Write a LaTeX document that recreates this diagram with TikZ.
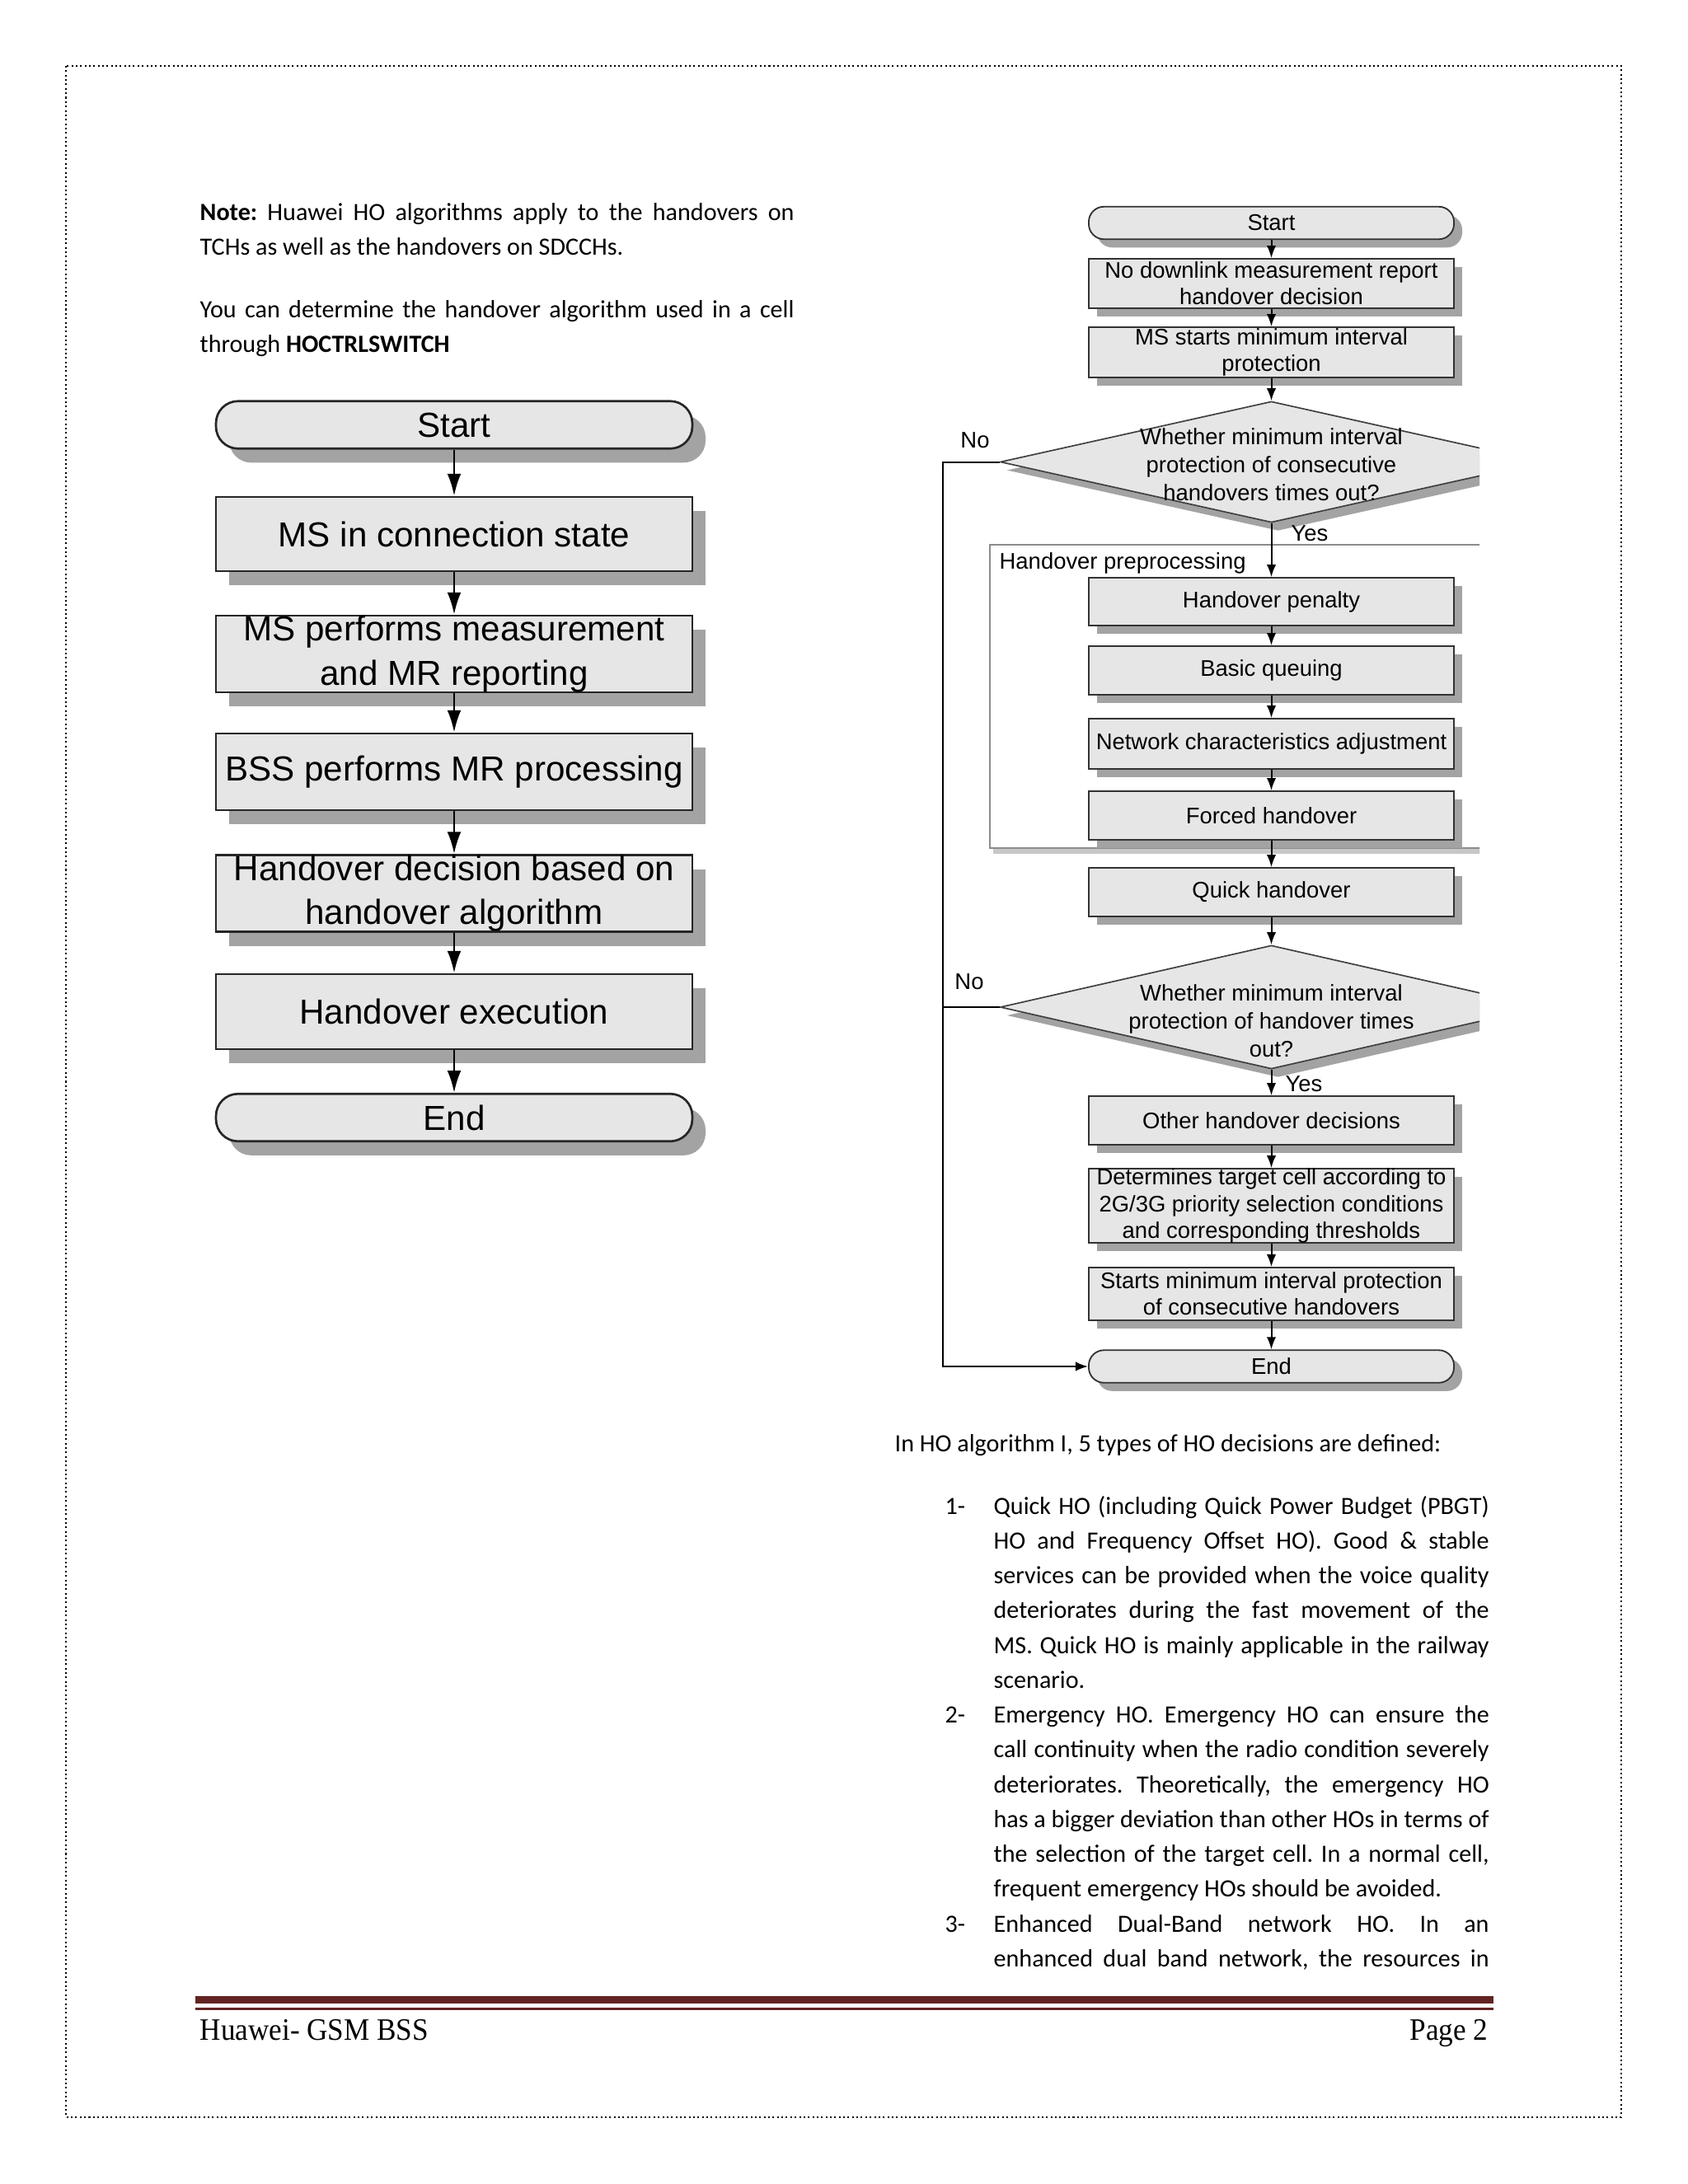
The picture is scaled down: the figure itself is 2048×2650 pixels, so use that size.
\documentclass[tikz,border=0pt]{standalone}
\usepackage{fontspec}
\setmainfont{Carlito}
\newfontfamily\arialf{Liberation Sans}
\newfontfamily\footf[FakeStretch=0.93]{Liberation Serif}
\usetikzlibrary{arrows.meta,shapes.geometric,shadows}
\definecolor{boxgray}{HTML}{E6E6E6}
\definecolor{shadowgray}{HTML}{A3A3A3}
\definecolor{framegray}{HTML}{8C8C8C}
\definecolor{footred}{HTML}{622423}
\frenchspacing
\newcommand{\jline}[1]{\makebox[179.6pt][s]{#1}}
\newcommand{\jlineL}[1]{\makebox[215.45pt][s]{#1}}
\tikzset{
  boxL/.style={draw=black!85, line width=0.8pt, fill=boxgray, inner sep=0pt, align=center,
    minimum width=172.7pt, minimum height=#1,
    font=\arialf\fontsize{12.6}{16}\selectfont,
    general shadow={fill=shadowgray, shadow xshift=4.8pt, shadow yshift=-5.1pt}},
  boxL/.default=27.5pt,
  termL/.style={boxL=17.2pt, rounded corners=8pt},
  arrL/.style={line width=0.8pt, -{Latex[length=8pt,width=5pt]}},
  boxR/.style={draw=black!80, line width=0.55pt, fill=boxgray, inner sep=0pt, align=center,
    minimum width=132.4pt, minimum height=#1,
    font=\arialf\fontsize{8.2}{9.6}\selectfont,
    general shadow={fill=shadowgray, shadow xshift=3pt, shadow yshift=-3pt}},
  boxR/.default=17.6pt,
  termR/.style={boxR=11.8pt, rounded corners=5.5pt},
  diaR/.style={diamond, draw=black!75, line width=0.5pt, fill=boxgray, inner sep=0pt,
    general shadow={fill=shadowgray, shadow xshift=2.4pt, shadow yshift=-3pt}},
  txtR/.style={inner sep=0pt, align=center, font=\arialf\fontsize{8.2}{10.2}\selectfont},
  lblR/.style={inner sep=0pt, font=\arialf\fontsize{8.2}{9.6}\selectfont},
  arrR/.style={line width=0.6pt, -{Latex[length=4.5pt,width=3.4pt]}},
  body/.style={inner sep=0pt, anchor=base west, font=\fontsize{9}{12.6}\selectfont},
}
\begin{document}
\begin{tikzpicture}[x=0.29883pt, y=-0.29883pt]
\useasboundingbox (0,0) rectangle (2048,2650);
\fill[white] (0,0) rectangle (2048,2650);
% page border
\draw[densely dotted, line width=0.6pt] (80,80) rectangle (1967,2569);

% ---------- left text ----------
\node[body] (n1) at (242,267) {\jlineL{\textbf{Note:} Huawei HO algorithms apply to the handovers on}};
\node[body] (n2) at (242,309) {TCHs as well as the handovers on SDCCHs.};
\node[body] (n3) at (242,385) {\jlineL{You can determine the handover algorithm used in a cell}};
\node[body] (n4) at (242,427) {through \textbf{HOCTRLSWITCH}};

% ---------- left flowchart ----------
\node[termL] (ls) at (551,515.5) {Start};
\node[boxL=26.9pt] (l1) at (551,648) {MS in connection state};
\node[boxL=27.8pt] (l2) at (551,793.5) {MS performs measurement\\and MR reporting};
\node[boxL=27.8pt] (l3) at (551,936.5) {BSS performs MR processing};
\node[boxL=27.5pt] (l4) at (551,1084) {Handover decision based on\\handover algorithm};
\node[boxL=27.2pt] (l5) at (551,1227.5) {Handover execution};
\node[termL] (le) at (551,1356) {End};
\draw[arrL] (ls.south) -- (l1.north);
\draw[arrL] (l1.south) -- (l2.north);
\draw[arrL] (l2.south) -- (l3.north);
\draw[arrL] (l3.south) -- (l4.north);
\draw[arrL] (l4.south) -- (l5.north);
\draw[arrL] (l5.south) -- (le.north);

% ---------- right flowchart ----------
\begin{scope}
\clip (1100,230) rectangle (1795,1700);
% frame
\fill[black!22] (1205,1029) rectangle (1900,1036);
\draw[framegray, line width=0.6pt] (1900,661) -- (1201,661) -- (1201,1029) -- (1900,1029);
\node[lblR, anchor=west] (hpre) at (1212,683) {Handover preprocessing};

\node[termR] (rs) at (1542.5,270.5) {Start};
\node[boxR=17.9pt] (r1) at (1542.5,344) {No downlink measurement report\\handover decision};
\node[boxR=18.2pt] (r2) at (1542.5,427.5) {MS starts minimum interval\\protection};
\node[diaR, minimum width=196.6pt, minimum height=43.9pt] (d1) at (1542.5,560.5) {};
\node[txtR] (d1t) at (1542.5,564) {Whether minimum interval\\protection of consecutive\\handovers times out?};
\node[boxR=17.3pt] (hp) at (1542.5,730) {Handover penalty};
\node[boxR=17.6pt] (bq) at (1542.5,813.5) {Basic queuing};
\node[boxR=18.2pt] (nc) at (1542.5,902.5) {Network characteristics adjustment};
\node[boxR=17.6pt] (fh) at (1542.5,989.5) {Forced handover};
\node[boxR=17.6pt] (qh) at (1542.5,1082.5) {Quick handover};
\node[diaR, minimum width=196.6pt, minimum height=44.8pt] (d2) at (1542.5,1222) {};
\node[txtR] (d2t) at (1542.5,1239) {Whether minimum interval\\protection of handover times\\out?};
\node[boxR=17.6pt] (oh) at (1542.5,1359.5) {Other handover decisions};
\node[boxR=25.7pt] (dt) at (1542.5,1463) {Determines target cell according to\\2G/3G priority selection conditions\\and corresponding thresholds};
\node[boxR=19.1pt] (sm) at (1542.5,1570) {Starts minimum interval protection\\of consecutive handovers};
\node[termR] (re) at (1542.5,1658) {End};
\end{scope}

\node[lblR] (no1) at (1183,534) {No};
\node[lblR] (yes1) at (1589,647) {Yes};
\node[lblR] (no2) at (1176,1191) {No};
\node[lblR] (yes2) at (1582,1315) {Yes};

\coordinate (lx) at (1144,0);
\draw[arrR] (rs.south) -- (r1.north);
\draw[arrR] (r1.south) -- (r2.north);
\draw[arrR] (r2.south) -- (d1.north);
\draw[arrR] (d1.south) -- (hp.north);
\draw[arrR] (hp.south) -- (bq.north);
\draw[arrR] (bq.south) -- (nc.north);
\draw[arrR] (nc.south) -- (fh.north);
\draw[arrR] (fh.south) -- (qh.north);
\draw[arrR] (qh.south) -- (d2.north);
\draw[arrR] (d2.south) -- (oh.north);
\draw[arrR] (oh.south) -- (dt.north);
\draw[arrR] (dt.south) -- (sm.north);
\draw[arrR] (sm.south) -- (re.north);
\draw[arrR] (d1.west) -- (lx |- d1.west) -- (lx |- re.west) -- (re.west);
\draw[line width=0.6pt] (d2.west) -- (lx |- d2.west);

% ---------- right text ----------
\node[body] (t0) at (1085,1761) {In HO algorithm I, 5 types of HO decisions are defined:};
\node[body] (k1) at (1146,1837) {1-};
\node[body] (a0) at (1205,1837.0) {\jline{Quick HO (including Quick Power Budget (PBGT)}};
\node[body] (a1) at (1205,1879.25) {\jline{HO and Frequency Offset HO). Good \& stable}};
\node[body] (a2) at (1205,1921.5) {\jline{services can be provided when the voice quality}};
\node[body] (a3) at (1205,1963.75) {\jline{deteriorates during the fast movement of the}};
\node[body] (a4) at (1205,2006.0) {\jline{MS. Quick HO is mainly applicable in the railway}};
\node[body] (a5) at (1205,2048.25) {scenario.};
\node[body] (k2) at (1146,2090.5) {2-};
\node[body] (b0) at (1205,2090.5) {\jline{Emergency HO. Emergency HO can ensure the}};
\node[body] (b1) at (1205,2132.75) {\jline{call continuity when the radio condition severely}};
\node[body] (b2) at (1205,2175.0) {\jline{deteriorates. Theoretically, the emergency HO}};
\node[body] (b3) at (1205,2217.25) {\jline{has a bigger deviation than other HOs in terms of}};
\node[body] (b4) at (1205,2259.5) {\jline{the selection of the target cell. In a normal cell,}};
\node[body] (b5) at (1205,2301.75) {frequent emergency HOs should be avoided.};
\node[body] (k3) at (1146,2344.0) {3-};
\node[body] (c0) at (1205,2344.0) {\jline{Enhanced Dual-Band network HO. In an}};
\node[body] (c1) at (1205,2386.25) {\jline{enhanced dual band network, the resources in}};

% ---------- footer ----------
\fill[footred] (237,2422) rectangle (1812,2431);
\fill[footred] (237,2436) rectangle (1812,2439);
\node[inner sep=0pt, anchor=base west, font=\footf\fontsize{11.3}{13}\selectfont] (f1) at (242,2475) {Huawei- GSM BSS};
\node[inner sep=0pt, anchor=base east, font=\footf\fontsize{11.3}{13}\selectfont] (f2) at (1806,2475) {Page 2};
\end{tikzpicture}
\end{document}
